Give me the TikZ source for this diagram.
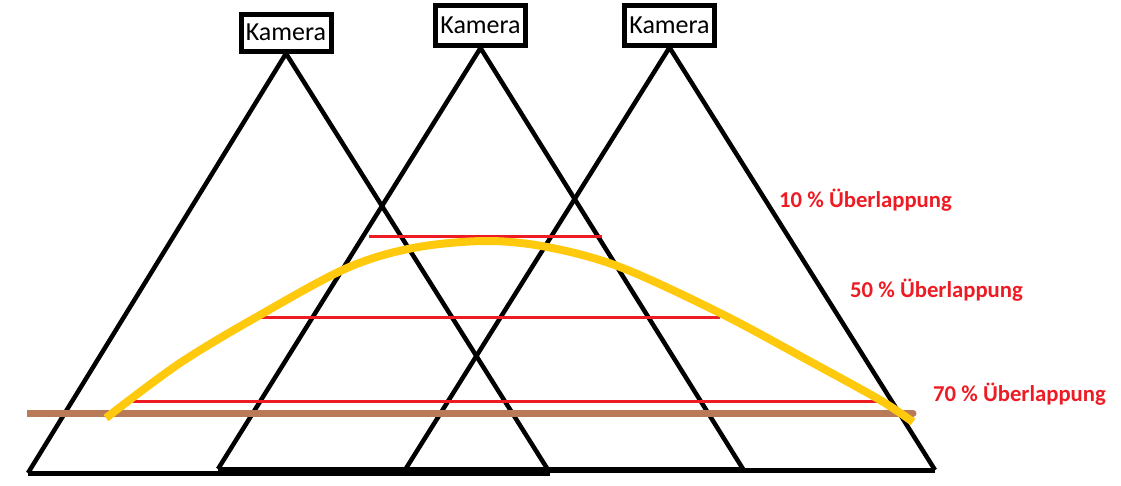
\documentclass[tikz,border=0pt]{standalone}
\usepackage{fontspec}
\setmainfont{Carlito}
\definecolor{pred}{HTML}{ED1C24}
\definecolor{pbrown}{HTML}{B97A57}
\definecolor{pgold}{HTML}{FFC90E}
\begin{document}
\begin{tikzpicture}[x=1pt,y=-1pt,
  cam/.style={draw,line width=5pt,inner sep=0pt,font=\fontsize{26}{26}\selectfont},
  fov/.style={line width=4.5pt,line join=miter},
  base/.style={line width=5pt},
  ovl/.style={draw=pred,line width=3pt},
  lbl/.style={text=pred,font=\bfseries\fontsize{22.7}{23}\selectfont,anchor=west,inner sep=0pt}]
\useasboundingbox (0,0) rectangle (1121,485);
% cameras
\node[cam,minimum width=90pt,minimum height=37pt] (c1) at (286,32.5) {Kamera};
\node[cam,minimum width=90pt,minimum height=40pt] (c2) at (480.5,25.5) {Kamera};
\node[cam,minimum width=90pt,minimum height=40pt] (c3) at (669.5,25) {Kamera};
% base corners
\coordinate (l1) at (28,473);
\coordinate (r1) at (550,473);
\coordinate (l2) at (218,469);
\coordinate (r2) at (743,469);
\coordinate (l3) at (405,470);
\coordinate (r3) at (935,470);
% fields of view
\draw[fov] (l1) -- (c1.south) -- (r1);
\draw[fov] (l2) -- (c2.south) -- (r2);
\draw[fov] (l3) -- (c3.south) -- (r3);
\draw[base] (l1) -- (r1);
\draw[base] (l2) -- (r2);
\draw[base] (l3) -- (r3);
% overlap lines
\coordinate (a1) at (369,236); \coordinate (b1) at (602,236);
\coordinate (a2) at (260,317); \coordinate (b2) at (720,317);
\coordinate (a3) at (133,401); \coordinate (b3) at (880,401);
\draw[ovl] (a1) -- (b1);
\draw[ovl] (a2) -- (b2);
% ground
\coordinate (g1) at (27,413); \coordinate (g2) at (913,413);
\draw[pbrown,line width=7pt] (g1) -- (g2);
\draw[pbrown,line width=7pt,line cap=round] ([xshift=-5pt]g2) -- (g2);
\draw[ovl] (a3) -- (b3);
% flight path
\draw[pgold,line width=8pt] plot[smooth,tension=0.55] coordinates
  {(106,418) (180,363) (260,315) (347,268) (413,248) (485,241) (547,247) (620,267) (720,313) (813,363) (880,400) (913,422)};
% labels
\node[lbl] (t1) at (779,200) {10 \% Überlappung};
\node[lbl] (t2) at (850,290) {50 \% Überlappung};
\node[lbl] (t3) at (933,394) {70 \% Überlappung};
\end{tikzpicture}
\end{document}
